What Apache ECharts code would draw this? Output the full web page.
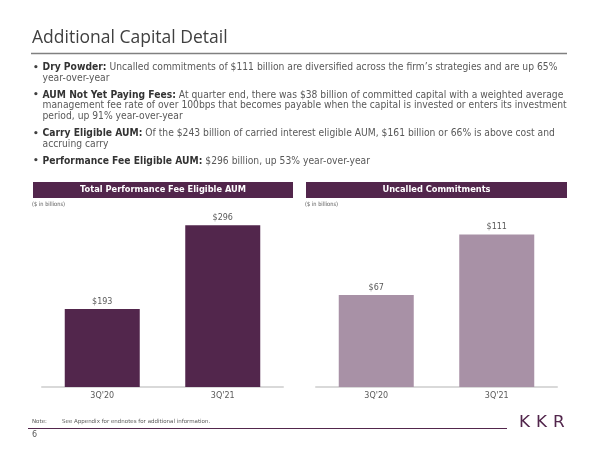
<!DOCTYPE html>
<html>
    <head>
        <meta charset="utf-8">
        <script src="https://cdn.jsdelivr.net/npm/echarts@6/dist/echarts.min.js"></script>
        <style>
            html, body { margin: 0; padding: 0; background: #fff; }
            #main { width: 600px; height: 450px; }
        </style>
    </head>
    <body>
        <div id="main"></div>
        <script>
            // chart data
            var quarters = ['3Q\'20', '3Q\'21'];
            var perfFeeAum = [193, 296];
            var uncalled = [67, 111];

            var purple = '#52264c';
            var lilac = '#a891a6';
            var textGrey = '#595959';

            var bullets = [
                {head: 'Dry Powder:', lines: [
                    ' Uncalled commitments of $111 billion are diversified across the firm\u2019s strategies and are up 65%',
                    'year-over-year'], y: 67.5},
                {head: 'AUM Not Yet Paying Fees:', lines: [
                    ' At quarter end, there was $38 billion of committed capital with a weighted average',
                    'management fee rate of over 100bps that becomes payable when the capital is invested or enters its investment',
                    'period, up 91% year-over-year'], y: 95},
                {head: 'Carry Eligible AUM:', lines: [
                    ' Of the $243 billion of carried interest eligible AUM, $161 billion or 66% is above cost and',
                    'accruing carry'], y: 133.5},
                {head: 'Performance Fee Eligible AUM:', lines: [
                    ' $296 billion, up 53% year-over-year'], y: 161}
            ];

            var chart = echarts.init(document.getElementById('main'));

            var graphics = [];

            function txt(x, y, s, o) {
                o = o || {};
                graphics.push({
                    type: 'text', x: x, y: y, scaleX: o.scaleX || 1,
                    style: {
                        text: s,
                        fill: o.color || textGrey,
                        font: o.font || '9px "DejaVu Sans"',
                        textAlign: o.align || 'left',
                        textVerticalAlign: 'middle',
                        rich: o.rich
                    }
                });
            }

            // title
            txt(32, 38, 'Additional Capital Detail', {font: '17.5px "Open Sans"', color: '#404040'});
            graphics.push({type: 'line', shape: {x1: 31, y1: 53.5, x2: 567, y2: 53.5},
                style: {stroke: '#808080', lineWidth: 1.5}});

            // bullets
            bullets.forEach(function (b) {
                txt(33, b.y, '\u2022', {font: 'bold 9px "DejaVu Sans"', color: '#404040'});
                b.lines.forEach(function (line, i) {
                    var s = i === 0 ? '{b|' + b.head + '}' + line : line;
                    txt(42.5, b.y + i * 10.6, s, {
                        scaleX: 0.92,
                        rich: {b: {font: 'bold 10px "DejaVu Sans"', fill: '#333333'}},
                        font: '10px "DejaVu Sans"'
                    });
                });
            });

            // panel headers
            [[33, 293, 'Total Performance Fee Eligible AUM'], [306, 567, 'Uncalled Commitments']].forEach(function (h) {
                graphics.push({type: 'rect', shape: {x: h[0], y: 182, width: h[1] - h[0], height: 16},
                    style: {fill: purple}});
                txt((h[0] + h[1]) / 2, 190, h[2], {font: 'bold 9px "DejaVu Sans"', color: '#fff', align: 'center', scaleX: 0.92});
                txt(h[0] - 1, 204, '($ in billions)', {font: '6px "DejaVu Sans"', color: '#595959', scaleX: 0.85});
            });

            // footer
            txt(32, 422, 'Note:', {font: '5.5px "DejaVu Sans"', color: '#595959'});
            txt(62, 422, 'See Appendix for endnotes for additional information.', {font: '5.5px "DejaVu Sans"', color: '#595959'});
            graphics.push({type: 'line', shape: {x1: 28, y1: 428.5, x2: 507, y2: 428.5},
                style: {stroke: purple, lineWidth: 1}});
            txt(32, 434.5, '6', {font: '8px "DejaVu Sans"', color: '#595959'});
            ['K', 'K', 'R'].forEach(function (c, i) {
                txt(519 + i * 17, 423, c, {font: '16px "DejaVu Sans"', color: purple, scaleX: 1.05});
            });

            function axisX(idx) {
                return {
                    type: 'category', gridIndex: idx, data: quarters,
                    axisLine: {lineStyle: {color: '#d9d9d9', width: 2}},
                    axisTick: {show: false},
                    axisLabel: {color: '#595959', fontSize: 8, fontFamily: 'DejaVu Sans', margin: 5}
                };
            }
            function axisY(idx, min, max) {
                return {type: 'value', gridIndex: idx, min: min, max: max, show: false, splitLine: {show: false}};
            }
            function barSeries(idx, data, color) {
                return {
                    type: 'bar', xAxisIndex: idx, yAxisIndex: idx, data: data, barWidth: 75,
                    itemStyle: {color: color},
                    label: {show: true, position: 'top', distance: 3, formatter: '${c}',
                        color: '#595959', fontSize: 8, fontFamily: 'DejaVu Sans'},
                    silent: true
                };
            }

            chart.setOption({
                animation: false,
                grid: [
                    {left: 42, right: 317, top: 200, bottom: 63},
                    {left: 316, right: 43, top: 200, bottom: 63}
                ],
                xAxis: [axisX(0), axisX(1)],
                yAxis: [axisY(0, 97, 327), axisY(1, 0, 136)],
                series: [barSeries(0, perfFeeAum, purple), barSeries(1, uncalled, lilac)],
                graphic: graphics
            });
        </script>
    </body>
</html>
